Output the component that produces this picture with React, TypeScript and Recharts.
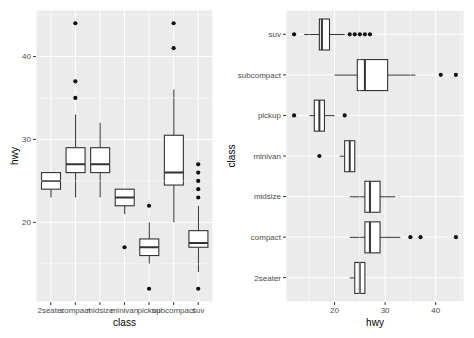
import React from "react";
import {
  ComposedChart,
  Bar,
  Line,
  XAxis,
  YAxis,
  CartesianGrid,
  ReferenceLine,
} from "recharts";

const classes = ["2seater", "compact", "midsize", "minivan", "pickup", "subcompact", "suv"];
const whiskerLow = [23, 23, 23, 21, 15, 20, 14];
const q1 = [24, 26, 26, 22, 16, 24.5, 17];
const median = [25, 27, 27, 23, 17, 26, 17.5];
const q3 = [26, 29, 29, 24, 18, 30.5, 19];
const whiskerHigh = [26, 33, 32, 24, 20, 36, 22];
const outliers: number[][] = [[], [35, 37, 44], [], [17], [12, 22], [41, 44], [12, 23, 24, 25, 26, 27]];

const hwyTicks = [20, 30, 40];
const hwyMinor = [15, 25, 35, 45];
const hwyDomain = [10.4, 45.6];
const outlierKeys = ["o1", "o2", "o3", "o4", "o5", "o6"];

const data = classes.map((c, i) => {
  const row: any = {
    cls: c,
    whisker: [whiskerLow[i], whiskerHigh[i]],
    box: [q1[i], q3[i]],
    q1: q1[i],
    med: median[i],
    q3: q3[i],
  };
  outlierKeys.forEach((k, j) => {
    row[k] = outliers[i][j] ?? null;
  });
  return row;
});

const FONT = "'Liberation Sans', Arial, sans-serif";
const tickStyle = { fontSize: 8, fill: "#4D4D4D", stroke: "none", fontFamily: FONT };
const tickLineStyle = { stroke: "#333333", strokeWidth: 1 };
const INK = "#333333";

function WhiskerV(props: any) {
  const { x, y, width, height } = props;
  const cx = x + width / 2;
  return <line x1={cx} x2={cx} y1={y} y2={y + height} stroke={INK} strokeWidth={1} />;
}

function BoxV(props: any) {
  const { x, y, width, height, payload } = props;
  const top = Math.min(y, y + height);
  const h = Math.abs(height);
  const my = top + (h * (payload.q3 - payload.med)) / (payload.q3 - payload.q1);
  return (
    <g>
      <rect x={x} y={top} width={width} height={h} fill="#fff" stroke={INK} strokeWidth={1.1} />
      <line x1={x} x2={x + width} y1={my} y2={my} stroke={INK} strokeWidth={2} />
    </g>
  );
}

function WhiskerH(props: any) {
  const { x, y, width, height } = props;
  const cy = y + height / 2;
  return <line x1={x} x2={x + width} y1={cy} y2={cy} stroke={INK} strokeWidth={1} />;
}

function BoxH(props: any) {
  const { x, y, width, height, payload } = props;
  const left = Math.min(x, x + width);
  const w = Math.abs(width);
  const mx = left + (w * (payload.med - payload.q1)) / (payload.q3 - payload.q1);
  return (
    <g>
      <rect x={left} y={y} width={w} height={height} fill="#fff" stroke={INK} strokeWidth={1.1} />
      <line x1={mx} x2={mx} y1={y} y2={y + height} stroke={INK} strokeWidth={2} />
    </g>
  );
}

function outlierLines() {
  return outlierKeys.map((k) => (
    <Line
      key={k}
      dataKey={k}
      stroke="none"
      isAnimationActive={false}
      dot={{ r: 2.1, fill: "#111", stroke: "#111", strokeWidth: 0 }}
      activeDot={false}
      legendType="none"
    />
  ));
}

function VerticalBox() {
  return (
    <ComposedChart
      width={237}
      height={338}
      data={data}
      margin={{ top: 10, right: 24, left: 12, bottom: 0 }}
      barSize={19}
      barGap={-19}
    >
      <CartesianGrid fill="#EBEBEB" stroke="#fff" strokeWidth={1} />
      {hwyMinor.map((v) => (
        <ReferenceLine key={v} y={v} stroke="#fff" strokeWidth={0.5} />
      ))}
      <XAxis
        dataKey="cls"
        type="category"
        interval={0}
        padding={{ left: 2.5, right: 2.5 }}
        height={36}
        axisLine={false}
        tickLine={tickLineStyle}
        tickSize={3}
        tickMargin={2}
        tick={tickStyle}
      />
      <YAxis
        type="number"
        domain={hwyDomain}
        ticks={hwyTicks}
        allowDataOverflow
        width={24}
        axisLine={false}
        tickLine={tickLineStyle}
        tickSize={3}
        tickMargin={2}
        tick={tickStyle}
      />
      <Bar dataKey="whisker" shape={<WhiskerV />} isAnimationActive={false} />
      <Bar dataKey="box" shape={<BoxV />} isAnimationActive={false} />
      {outlierLines()}
    </ComposedChart>
  );
}

function HorizontalBox() {
  return (
    <ComposedChart
      width={237}
      height={338}
      data={data}
      layout="vertical"
      margin={{ top: 10, right: 10, left: 0, bottom: 0 }}
      barSize={31}
      barGap={-31}
    >
      <CartesianGrid fill="#EBEBEB" stroke="#fff" strokeWidth={1} />
      {hwyMinor.map((v) => (
        <ReferenceLine key={v} x={v} stroke="#fff" strokeWidth={0.5} />
      ))}
      <XAxis
        type="number"
        domain={hwyDomain}
        ticks={hwyTicks}
        allowDataOverflow
        height={36}
        axisLine={false}
        tickLine={tickLineStyle}
        tickSize={3}
        tickMargin={2}
        tick={tickStyle}
      />
      <YAxis
        dataKey="cls"
        type="category"
        reversed
        interval={0}
        padding={{ top: 4, bottom: 4 }}
        width={49}
        axisLine={false}
        tickLine={tickLineStyle}
        tickSize={3}
        tickMargin={2}
        tick={tickStyle}
      />
      <Bar dataKey="whisker" shape={<WhiskerH />} isAnimationActive={false} />
      <Bar dataKey="box" shape={<BoxH />} isAnimationActive={false} />
      {outlierLines()}
    </ComposedChart>
  );
}

export default function App() {
  const title = { fontSize: 10, fill: "#000", fontFamily: FONT };
  return (
    <div style={{ position: "absolute", left: 0, top: 0, width: 474, height: 338, background: "#fff" }}>
      <div style={{ position: "absolute", left: 0, top: 0 }}>
        <VerticalBox />
      </div>
      <div style={{ position: "absolute", left: 237, top: 0 }}>
        <HorizontalBox />
      </div>
      <svg width={474} height={338} style={{ position: "absolute", left: 0, top: 0, pointerEvents: "none" }}>
        <text x={124.5} y={326} textAnchor="middle" {...title}>class</text>
        <text transform="translate(18,156) rotate(-90)" textAnchor="middle" {...title}>hwy</text>
        <text x={375} y={326} textAnchor="middle" {...title}>hwy</text>
        <text transform="translate(235,156) rotate(-90)" textAnchor="middle" {...title}>class</text>
      </svg>
    </div>
  );
}
